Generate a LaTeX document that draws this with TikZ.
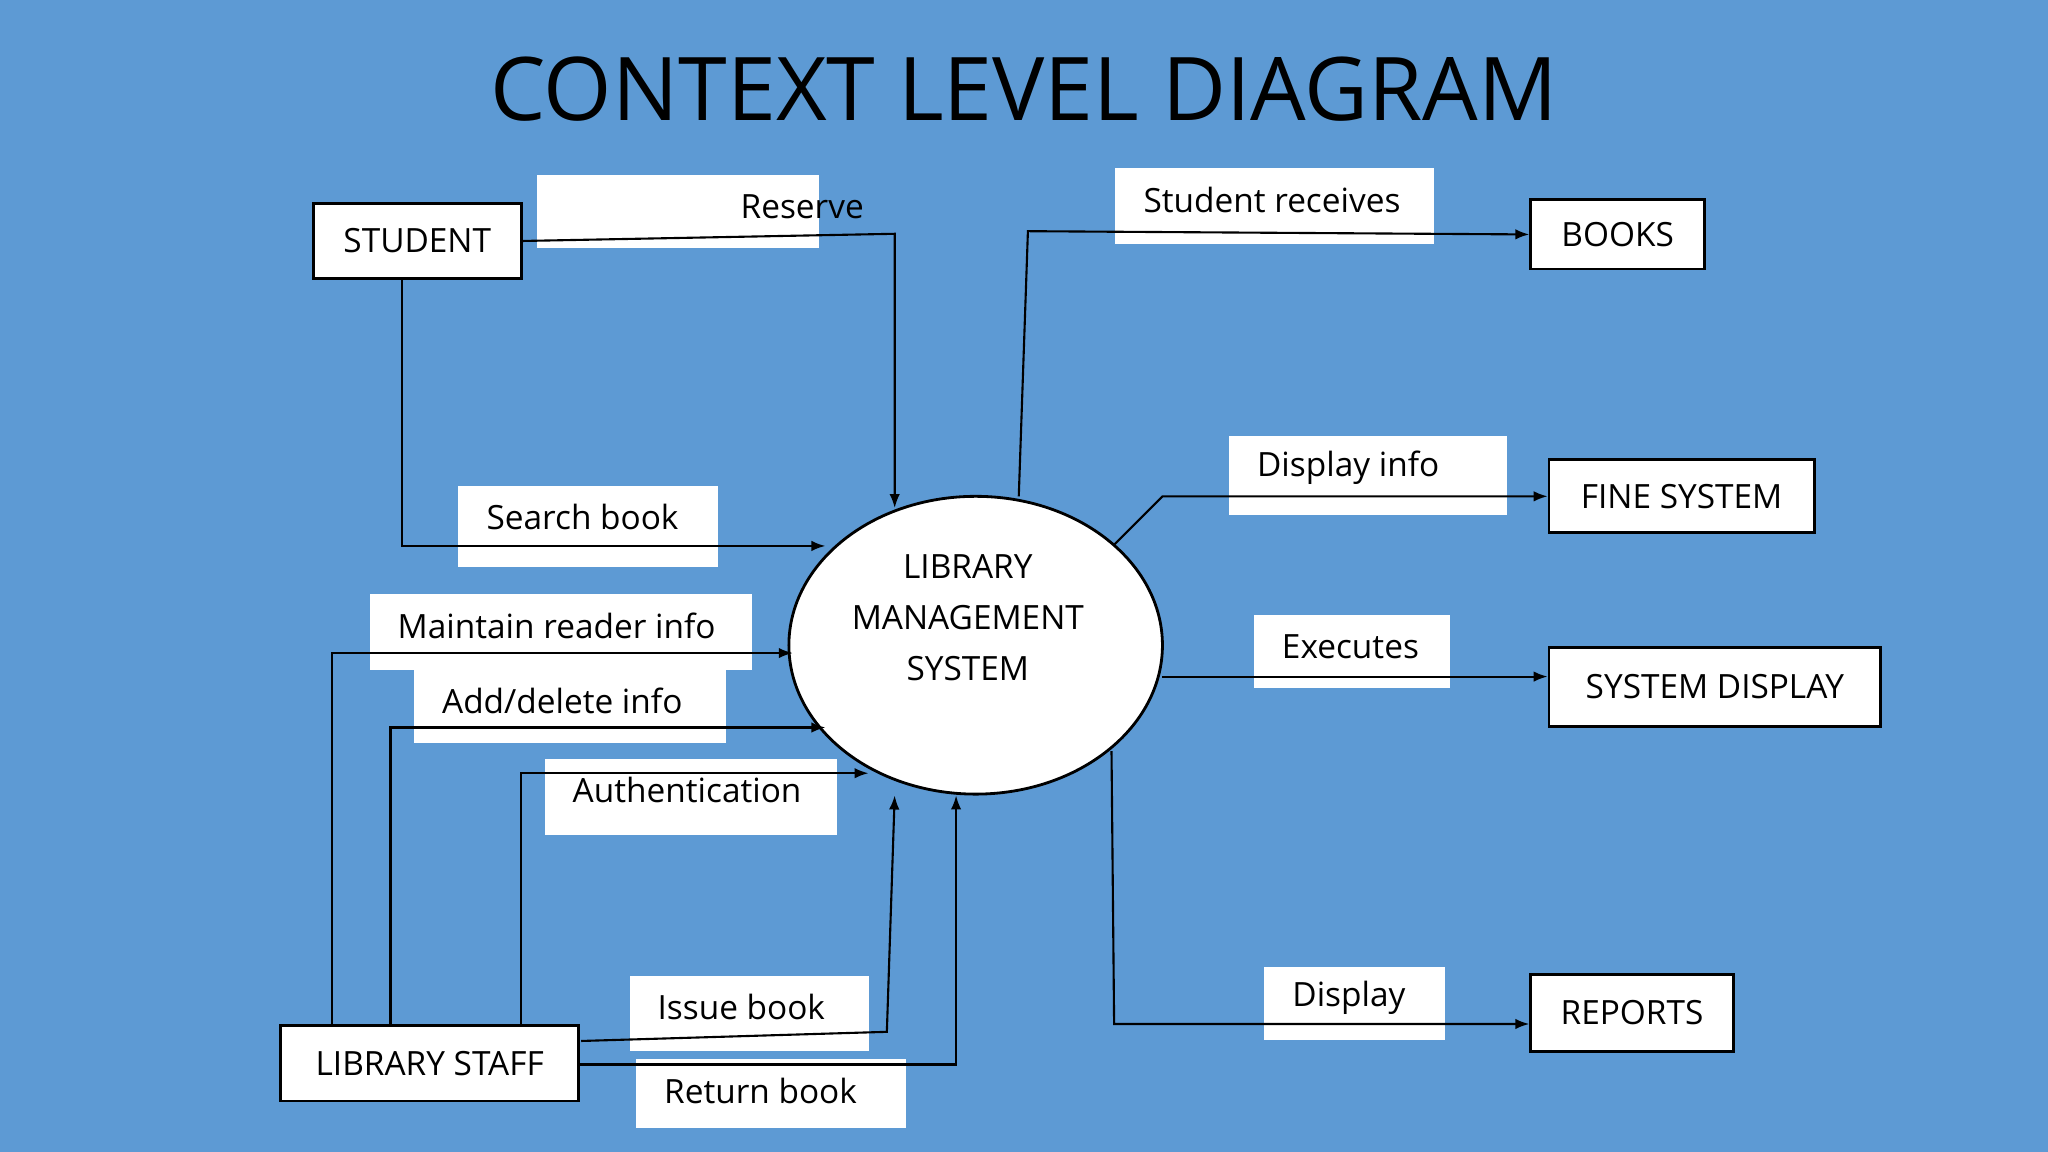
\documentclass[tikz,border=0pt]{standalone}
\usepackage{fontspec}
\setmainfont{Open Sans}
\usetikzlibrary{arrows.meta}
\begin{document}
\begin{tikzpicture}[x=0.01306cm,y=-0.01306cm,
  ent/.style={draw=black,fill=white,line width=0.8pt,inner sep=0pt,font=\fontsize{9.5pt}{11pt}\selectfont},
  lab/.style={fill=white,inner sep=0pt,font=\fontsize{9.5pt}{11pt}\selectfont},
  con/.style={line width=0.6pt,-{Latex[length=4pt,width=3pt]}},
  lin/.style={line width=0.6pt}]
\fill[fill={rgb,255:red,93;green,154;blue,212}] (0,0) rectangle (1568,882);
\useasboundingbox (0,0) rectangle (1568,882);
\node (title) at (784,68) {\fontsize{25pt}{30pt}\selectfont CONTEXT LEVEL DIAGRAM};
% label boxes
\newcommand{\lbox}[6]{\fill[white] (#1,#2) rectangle (#3,#4); \node[anchor=west,font=\fontsize{9.5pt}{11pt}\selectfont] (#6) at ({#1+12},{#2+24}) {#5};}
\lbox{411}{134}{627}{190}{\hspace{50pt}Reserve}{lreserve}
\lbox{854}{129}{1098}{187}{Student receives}{lreceive}
\lbox{941}{334}{1154}{394}{Display info}{ldisp}
\lbox{351}{372}{550}{434}{Search book}{lsearch}
\lbox{283}{455}{576}{513}{Maintain reader info}{lmaint}
\lbox{317}{513}{556}{569}{Add/delete info}{ladd}
\lbox{417}{581}{641}{639}{Authentication}{lauth}
\lbox{960}{471}{1110}{527}{Executes}{lexec}
\lbox{968}{740}{1106}{796}{Display}{ldisplay}
\lbox{482}{747}{665}{805}{Issue book}{lissue}
\lbox{487}{811}{694}{864}{Return book}{lreturn}
% entities
\node[ent,minimum width=159*0.01306cm,minimum height=57*0.01306cm] (student) at (319.5,184.5) {STUDENT};
\node[ent,minimum width=133*0.01306cm,minimum height=53*0.01306cm] (books) at (1238.5,179.5) {BOOKS};
\node[ent,minimum width=203*0.01306cm,minimum height=56*0.01306cm] (fine) at (1287.5,380) {FINE SYSTEM};
\node[ent,minimum width=254*0.01306cm,minimum height=60*0.01306cm] (sysd) at (1313,526) {SYSTEM DISPLAY};
\node[ent,minimum width=155*0.01306cm,minimum height=59*0.01306cm] (reports) at (1249.5,775.5) {REPORTS};
\node[ent,minimum width=228*0.01306cm,minimum height=58*0.01306cm] (staff) at (329,814) {LIBRARY STAFF};
\draw[fill=white,line width=0.8pt] (747,494) ellipse [x radius=143,y radius=114];
\node[align=center,font=\fontsize{9.5pt}{14.5pt}\selectfont] (lms) at (741,473) {LIBRARY\\MANAGEMENT\\SYSTEM};
% connectors
\coordinate (a1) at (685,179);
\draw[con] (student.east) -- (a1) -- (685,389);
\draw[con] (student.south -| 308,0) -- (308,418) -- (632,418);
\draw[con] (780,380) -- (787,177) -- (books.west);
\draw[con] (853,417) -- (890,380) -- (fine.west);
\draw[con] (890,518) -- (sysd.west |- 0,518);
\draw[con] (851,575) -- (853,784) -- (reports.west |- 0,784);
\draw[con] (staff.north -| 254,0) -- (254,500) -- (607,500);
\draw[con] (staff.north -| 299,0) -- (299,557) -- (632,557);
\draw[con] (staff.north -| 399,0) -- (399,592) -- (665,592);
\draw[con] (445,797) -- (679,790) -- (685,609);
\draw[con] (443,815) -- (732,815) -- (732,609);
\end{tikzpicture}
\end{document}
